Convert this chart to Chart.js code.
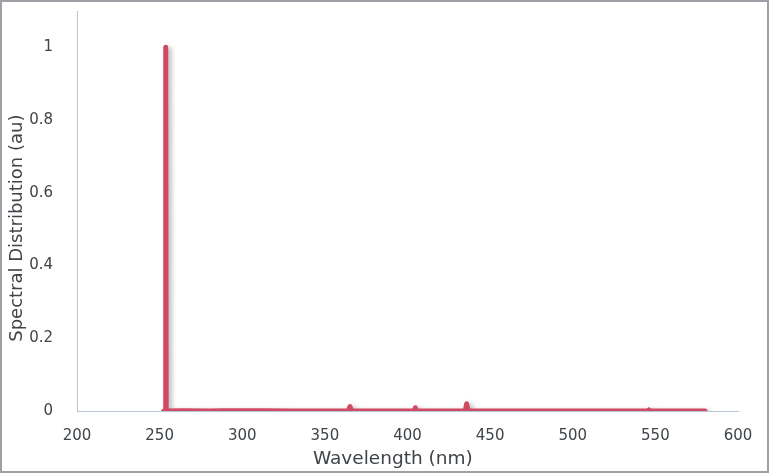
<!DOCTYPE html>
<html>
<head>
<meta charset="utf-8">
<script src="https://cdn.jsdelivr.net/npm/chart.js@4"></script>
<style>
  html, body { margin: 0; padding: 0; background: #ffffff; }
  #wrap { position: relative; width: 769px; height: 473px; }
  #marco { position: absolute; left: 0; top: 0; width: 769px; height: 473px; box-sizing: border-box; border: 2px solid #9da1a6; pointer-events: none; }
</style>
</head>
<body>
<div id="wrap">
  <canvas id="grafico" width="769" height="473"></canvas>
  <div id="marco"></div>
</div>
<script>
// Datos del espectro (lámpara de mercurio de baja presión)
const longitudes = [252.5, 253.4, 253.7, 254.0, 265, 280, 289, 297, 302, 313, 330, 364.2, 365.2, 366.2, 404.0, 404.7, 405.4, 434.9, 435.8, 436.7, 545.3, 546.1, 546.9, 580];
const intensidades = [0, 0, 1.0, 0, 0.0005, 0, 0.0005, 0.001, 0.0005, 0.001, 0, 0, 0.012, 0, 0, 0.009, 0, 0, 0.02, 0, 0, 0.003, 0, 0];
const ticksY = [0, 0.2, 0.4, 0.6, 0.8, 1];

const colorTexto = '#3f4448';
const colorEje = '#b9c5d6';
const fuente = 'DejaVu Sans';
// espacios finales para descentrar los títulos como en el original
const relleno = '\u00a0'.repeat(5);

const puntos = longitudes.map((x, i) => ({ x: x, y: intensidades[i] }));

// Sombra suave bajo la línea
const sombra = {
  id: 'sombra',
  beforeDatasetDraw(chart) {
    const ctx = chart.ctx;
    ctx.save();
    ctx.shadowColor = 'rgba(0,0,0,0.28)';
    ctx.shadowBlur = 5;
    ctx.shadowOffsetX = 3;
    ctx.shadowOffsetY = 2;
  },
  afterDatasetDraw(chart) {
    chart.ctx.restore();
  }
};

new Chart(document.getElementById('grafico'), {
  type: 'line',
  data: {
    datasets: [{
      data: puntos,
      borderColor: '#d14a63',
      borderWidth: 5,
      borderCapStyle: 'round',
      borderJoinStyle: 'round',
      pointRadius: 0,
      tension: 0,
      fill: false
    }]
  },
  options: {
    responsive: false,
    animation: false,
    layout: { padding: { left: 0, right: 31, top: 11, bottom: 0 } },
    plugins: { legend: { display: false }, tooltip: { enabled: false } },
    scales: {
      x: {
        type: 'linear',
        min: 200,
        max: 600,
        grid: { display: false },
        border: { display: true, color: colorEje, width: 1 },
        ticks: { stepSize: 50, color: colorTexto, padding: 8, font: { family: fuente, size: 15 } },
        title: { display: true, text: 'Wavelength (nm)' + relleno, color: colorTexto, padding: { top: 0, bottom: 3 }, font: { family: fuente, size: 18.5 } },
        afterFit(scale) { scale.height = 62; }
      },
      y: {
        type: 'linear',
        min: 0,
        max: 1.1,
        grid: { display: false },
        border: { display: true, color: colorEje, width: 1 },
        afterBuildTicks(scale) { scale.ticks = ticksY.map(v => ({ value: v })); },
        ticks: { color: colorTexto, padding: 16, font: { family: fuente, size: 15 }, callback: v => String(v) },
        title: { display: true, text: 'Spectral Distribution (au)' + relleno + '\u00a0', color: colorTexto, padding: { top: 7, bottom: 0 }, font: { family: fuente, size: 18 } },
        afterFit(scale) { scale.width = 77; scale.paddingTop = 0; scale.paddingBottom = 0; }
      }
    }
  },
  plugins: [sombra]
});
</script>
</body>
</html>
